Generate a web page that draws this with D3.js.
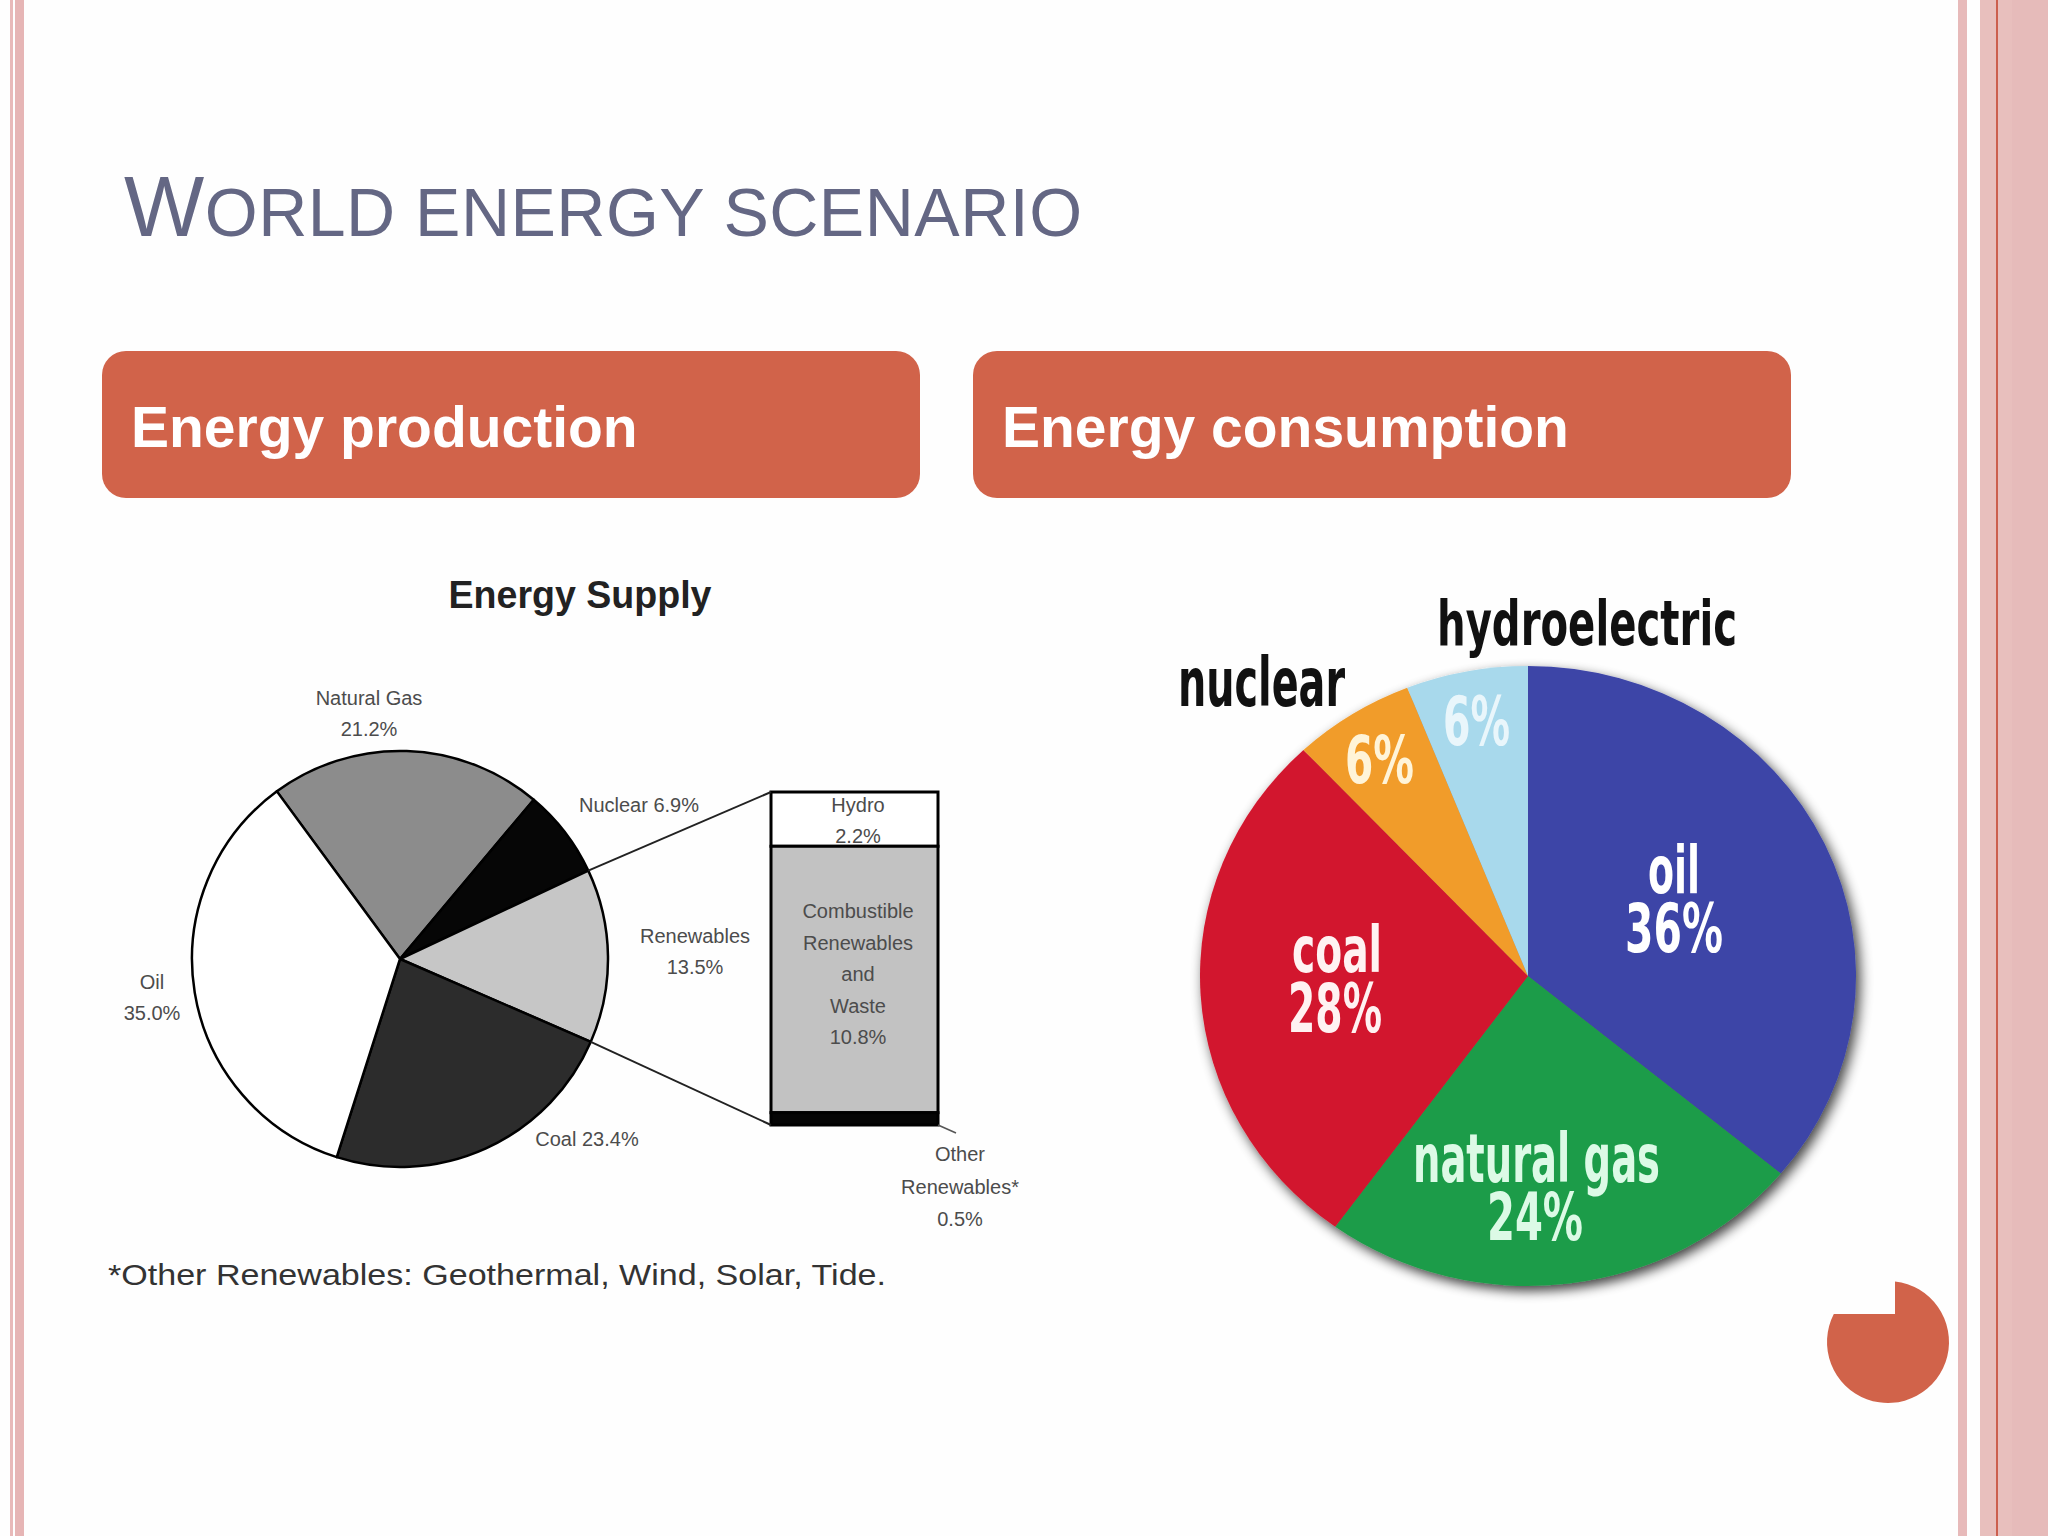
<!DOCTYPE html>
<html>
<head>
<meta charset="utf-8">
<script src="https://cdn.jsdelivr.net/npm/d3@7"></script>
<style>
  html, body { margin: 0; padding: 0; background: #fefefe; }
  svg { display: block; }
</style>
</head>
<body>
<svg id="chart" width="2048" height="1536"></svg>
<script>
// ---------------- DATA ----------------
const slideTitleCap = "W";
const slideTitleRest = "ORLD ENERGY SCENARIO";
const panelHeaders = ["Energy production", "Energy consumption"];

const supplyTitle = "Energy Supply";
const supplyLabels = ["Natural Gas", "Nuclear", "Renewables", "Coal", "Oil"];
const supplyValues = [21.2, 6.9, 13.5, 23.4, 35.0];

const renewLabels = ["Hydro", "Combustible Renewables and Waste", "Other Renewables*"];
const renewValues = [2.2, 10.8, 0.5];

const footnote = "*Other Renewables: Geothermal, Wind, Solar, Tide.";

const consumptionLabels = ["oil", "natural gas", "coal", "nuclear", "hydroelectric"];
const consumptionValues = [36, 24, 28, 6, 6];

// ---------------- SETUP ----------------
const svg = d3.select("#chart");
const W = 2048, H = 1536;
const fmt1 = d => d.toFixed(1) + "%";
const fmt0 = d => d3.format("d")(d) + "%";

svg.append("rect").attr("width", W).attr("height", H).attr("fill", "#fefefe");

// frame decorations
const deco = svg.append("g");
deco.append("rect").attr("x", 10).attr("y", 0).attr("width", 3).attr("height", H).attr("fill", "#e8b9b9");
deco.append("rect").attr("x", 15).attr("y", 0).attr("width", 9).attr("height", H).attr("fill", "#e6b5b5");
deco.append("rect").attr("x", 1958).attr("y", 0).attr("width", 9).attr("height", H).attr("fill", "#e7baba");
deco.append("rect").attr("x", 1980).attr("y", 0).attr("width", 68).attr("height", H).attr("fill", "#e8bfbd");
deco.append("rect").attr("x", 2012).attr("y", 0).attr("width", 36).attr("height", H).attr("fill", "#e6bbba");
deco.append("rect").attr("x", 1996).attr("y", 0).attr("width", 2).attr("height", H).attr("fill", "#cc5f4e");

// title
const title = svg.append("text")
  .attr("x", 124).attr("y", 236)
  .attr("font-family", "Liberation Sans, Arial, sans-serif")
  .attr("letter-spacing", 0.5)
  .attr("fill", "#646784");
title.append("tspan").attr("font-size", 85).text(slideTitleCap);
title.append("tspan").attr("font-size", 68).text(slideTitleRest);

// header boxes
const boxX = [102, 973];
panelHeaders.forEach((h, i) => {
  svg.append("rect")
    .attr("x", boxX[i]).attr("y", 351).attr("width", 818).attr("height", 147)
    .attr("rx", 24).attr("ry", 24).attr("fill", "#d1634a");
  svg.append("text")
    .attr("x", boxX[i] + 29).attr("y", 447)
    .attr("font-family", "Liberation Sans, Arial, sans-serif")
    .attr("font-weight", "bold").attr("font-size", 57)
    .attr("fill", "#ffffff").text(h);
});

// ---------------- LEFT: ENERGY SUPPLY ----------------
const L = { cx: 400, cy: 959, r: 208 };
const lg = svg.append("g");
const smallFont = "Liberation Sans, Arial, sans-serif";

lg.append("text").attr("x", 580).attr("y", 608)
  .attr("text-anchor", "middle")
  .attr("font-family", smallFont).attr("font-weight", "bold")
  .attr("font-size", 38).attr("textLength", 263).attr("lengthAdjust", "spacingAndGlyphs")
  .attr("fill", "#222").text(supplyTitle);

const supplyColors = d3.scaleOrdinal()
  .domain(supplyLabels)
  .range(["#8c8c8c", "#060606", "#c6c6c6", "#2c2c2c", "#ffffff"]);

const a0 = -36.3 * Math.PI / 180;
const supplyPie = d3.pie().sort(null).value(d => d.v).startAngle(a0).endAngle(a0 + 2 * Math.PI);
const supplyArcs = supplyPie(supplyLabels.map((l, i) => ({ l, v: supplyValues[i] })));
const supplyArc = d3.arc().innerRadius(0).outerRadius(L.r);

const pieL = lg.append("g").attr("transform", `translate(${L.cx},${L.cy})`);
pieL.selectAll("path").data(supplyArcs).join("path")
  .attr("d", supplyArc)
  .attr("fill", d => supplyColors(d.data.l))
  .attr("stroke", "#000").attr("stroke-width", 2.5).attr("stroke-linejoin", "round");

// breakdown bar
const bar = { x: 771, w: 167, y0: 792, y1: 1125 };
const renewTotal = d3.sum(renewValues);
const yBar = d3.scaleLinear().domain([0, renewTotal]).range([bar.y0, bar.y1]);
const renewStack = [];
let acc = 0;
renewValues.forEach((v, i) => { renewStack.push({ l: renewLabels[i], v, s: acc, e: acc + v }); acc += v; });
const renewColors = d3.scaleOrdinal().domain(renewLabels).range(["#ffffff", "#c2c2c2", "#050505"]);

lg.selectAll("rect.seg").data(renewStack).join("rect").attr("class", "seg")
  .attr("x", bar.x).attr("width", bar.w)
  .attr("y", d => yBar(d.s)).attr("height", d => yBar(d.e) - yBar(d.s))
  .attr("fill", d => renewColors(d.l))
  .attr("stroke", "#000").attr("stroke-width", 3);

// connectors from renewables slice to bar
const renewArc = supplyArcs.find(d => d.data.l === "Renewables");
const edge = a => [L.cx + L.r * Math.sin(a), L.cy - L.r * Math.cos(a)];
const pTop = edge(renewArc.startAngle), pBot = edge(renewArc.endAngle);
lg.append("line").attr("x1", pTop[0]).attr("y1", pTop[1]).attr("x2", bar.x).attr("y2", yBar(0))
  .attr("stroke", "#222").attr("stroke-width", 2);
lg.append("line").attr("x1", pBot[0]).attr("y1", pBot[1]).attr("x2", bar.x).attr("y2", yBar(renewTotal))
  .attr("stroke", "#222").attr("stroke-width", 2);
lg.append("line").attr("x1", bar.x + bar.w).attr("y1", yBar(renewTotal)).attr("x2", bar.x + bar.w + 18).attr("y2", yBar(renewTotal) + 8)
  .attr("stroke", "#555").attr("stroke-width", 1.5);

// labels
const v = l => supplyValues[supplyLabels.indexOf(l)];
const supplyLabelLayout = [
  { lines: ["Natural Gas", fmt1(v("Natural Gas"))], x: 369, y: 705 },
  { lines: ["Nuclear " + fmt1(v("Nuclear"))], x: 639, y: 812 },
  { lines: ["Renewables", fmt1(v("Renewables"))], x: 695, y: 943 },
  { lines: ["Oil", fmt1(v("Oil"))], x: 152, y: 989 },
  { lines: ["Coal " + fmt1(v("Coal"))], x: 587, y: 1146 },
  { lines: ["Hydro", fmt1(renewValues[0])], x: 858, y: 812 },
  { lines: ["Combustible", "Renewables", "and", "Waste", fmt1(renewValues[1])], x: 858, y: 918, lh: 31.5 },
  { lines: ["Other", "Renewables*", fmt1(renewValues[2])], x: 960, y: 1161, lh: 32.5 }
];
supplyLabelLayout.forEach(d => {
  const t = lg.append("text").attr("x", d.x).attr("y", d.y)
    .attr("text-anchor", "middle").attr("font-family", smallFont)
    .attr("font-size", 20).attr("fill", "#4c4c4c");
  d.lines.forEach((ln, i) => {
    t.append("tspan").attr("x", d.x).attr("dy", i === 0 ? 0 : (d.lh || 31)).text(ln);
  });
});

lg.append("text").attr("x", 108).attr("y", 1285)
  .attr("font-family", smallFont).attr("font-size", 30)
  .attr("textLength", 778).attr("lengthAdjust", "spacingAndGlyphs")
  .attr("fill", "#333").text(footnote);

// ---------------- RIGHT: ENERGY CONSUMPTION ----------------
const R = { cx: 1528, cy: 976, rx: 328, ry: 310 };
const defs = svg.append("defs");
const f = defs.append("filter").attr("id", "pieShadow")
  .attr("x", "-10%").attr("y", "-10%").attr("width", "120%").attr("height", "120%");
f.append("feGaussianBlur").attr("in", "SourceAlpha").attr("stdDeviation", 6).attr("result", "b");
f.append("feOffset").attr("in", "b").attr("dx", 4).attr("dy", 5).attr("result", "o");
f.append("feComponentTransfer").attr("in", "o").attr("result", "s")
  .append("feFuncA").attr("type", "linear").attr("slope", 0.75);
const fm = f.append("feMerge");
fm.append("feMergeNode").attr("in", "s");
fm.append("feMergeNode").attr("in", "SourceGraphic");

const consColors = d3.scaleOrdinal().domain(consumptionLabels)
  .range(["#3c45a7", "#1f9c49", "#d2192f", "#f19c2b", "#a8d9ec"]);
const consPie = d3.pie().sort(null).value(d => d.v);
const consArcs = consPie(consumptionLabels.map((l, i) => ({ l, v: consumptionValues[i] })));
const consArc = d3.arc().innerRadius(0).outerRadius(R.ry);

const pieR = svg.append("g")
  .attr("transform", `translate(${R.cx},${R.cy}) scale(${R.rx / R.ry},1)`)
  .attr("filter", "url(#pieShadow)");
pieR.selectAll("path").data(consArcs).join("path")
  .attr("d", consArc)
  .attr("fill", d => consColors(d.data.l));

// right labels (each label is one text; stacked lines are tspans)
const cv = l => consumptionValues[consumptionLabels.indexOf(l)];
const condensed = "DejaVu Sans Condensed, DejaVu Sans, sans-serif";
const consLabelLayout = [
  { c: "#111", lines: [{ t: "hydroelectric", x: 1437, y: 645, w: 300, s: 62 }] },
  { c: "#111", lines: [{ t: "nuclear", x: 1178, y: 706, w: 167, s: 68 }] },
  { c: "#fff4d8", lines: [{ t: fmt0(cv("nuclear")), x: 1345, y: 783, w: 69, s: 66 }] },
  { c: "#e9f6fb", lines: [{ t: fmt0(cv("hydroelectric")), x: 1443, y: 745, w: 67, s: 68 }] },
  { c: "#ffffff", lines: [{ t: "oil", x: 1648, y: 893, w: 52, s: 66 },
                          { t: fmt0(cv("oil")), x: 1625, y: 952, w: 98, s: 68 }] },
  { c: "#fff2f2", lines: [{ t: "coal", x: 1292, y: 972, w: 90, s: 64 },
                          { t: fmt0(cv("coal")), x: 1288, y: 1032, w: 94, s: 68 }] },
  { c: "#dcfae6", lines: [{ t: "natural gas", x: 1413, y: 1182, w: 247, s: 68 },
                          { t: fmt0(cv("natural gas")), x: 1487, y: 1240, w: 96, s: 66 }] }
];
const rl = svg.append("g");
consLabelLayout.forEach(d => {
  const t = rl.append("text")
    .attr("font-family", condensed).attr("font-weight", "bold")
    .attr("fill", d.c);
  d.lines.forEach(ln => {
    t.append("tspan").attr("x", ln.x).attr("y", ln.y)
      .attr("font-size", ln.s)
      .attr("textLength", ln.w).attr("lengthAdjust", "spacingAndGlyphs")
      .text(ln.t);
  });
});

// bottom-right decorative pie glyph
const gp = d3.path();
const gc = { x: 1888, y: 1342, r: 61 };
const aS = Math.atan2(-Math.sqrt(gc.r * gc.r - 49), 7);
const aE = Math.atan2(-28, -Math.sqrt(gc.r * gc.r - 28 * 28)) + 2 * Math.PI;
gp.moveTo(gc.x + 7, gc.y - 28);
gp.lineTo(gc.x + gc.r * Math.cos(aS), gc.y + gc.r * Math.sin(aS));
gp.arc(gc.x, gc.y, gc.r, aS, aE, false);
gp.closePath();
svg.append("path").attr("d", gp.toString()).attr("fill", "#d1634a");
</script>
</body>
</html>
